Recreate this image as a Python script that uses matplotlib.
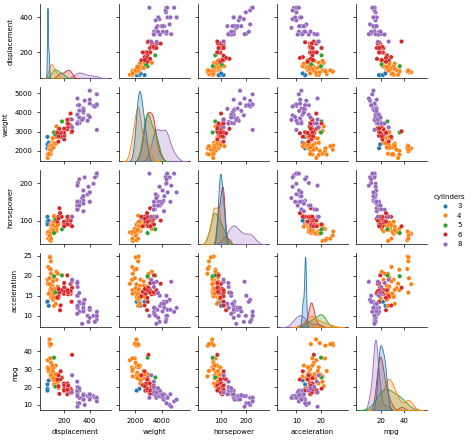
import matplotlib
matplotlib.use("Agg")
import matplotlib.pyplot as plt
import seaborn as sns
import pandas as pd

cyl3 = [(70,2330,97,13.5,19),(70,2124,90,13.5,18),(70,2720,110,13.5,21.5),(80,2420,100,12.5,23.7)]
cyl4 = [(97,2130,88,14.5,27),(97,1835,46,20.5,26),(110,2672,87,17.5,25),(107,2430,90,14.5,24),
        (104,2375,95,17.5,25),(121,2234,113,12.5,26),(140,2408,72,19,22),(98,2164,80,15,28),
        (113,2228,95,14,25),(71,1773,65,19,31),(72,1613,69,18,35),(76,1795,52,22.2,29),
        (97,1985,78,21.5,36),(91,1800,67,16.4,36.1),(86,2110,65,17.9,46.6),(90,2125,48,21.7,43.1),
        (85,1990,65,19.4,44.6),(91,1970,67,15.8,44),(120,2979,88,19.6,27),(140,2720,86,15.6,27),
        (151,2950,90,17.3,27.2),(122,2310,86,16.7,26),(156,2800,92,14.4,19.5),(134,2711,95,14.8,27.2),
        (97,2300,75,15.5,26.5),(90,2264,71,24.8,43.4),(105,2150,70,14.9,31.3),(121,2945,110,16,21.5),
        (140,3270,78,21,20.5),(89,2050,60,24.6,44.3),(97,2234,52,23.6,44),(79,1825,70,15.5,30),
        (120,2395,97,15,24),(112,2640,88,18.6,29),(135,2370,84,13,32),(98,2045,70,16.9,33.5),
        (119,2300,97,14.7,31),(108,2245,75,16.5,32),(151,3035,88,20.5,23),(116,2158,75,15.5,25)]
cyl5 = [(121,2950,67,19.9,36.4),(131,2830,103,15.9,20.3),(183,3530,77,20.1,25.4)]
cyl6 = [(198,2833,95,15.5,22),(199,2774,97,15.5,18),(200,2587,85,16,21),(250,3329,100,15.5,18),
        (232,3288,100,15.5,18),(225,3439,105,15.5,16),(250,3278,88,16,19),(258,2962,110,13.5,18),
        (225,3121,100,16.5,22),(231,3245,105,15.4,20),(200,2930,88,17.1,19),(250,3940,100,18,17),
        (225,3430,90,20.1,19.1),(231,3380,105,15.8,20.6),(173,2725,110,12.6,28.8),(155,2472,110,14.9,26.6),
        (262,3015,85,17,38),(181,2945,110,16.4,25),(168,2910,120,11.4,24.2),(146,2930,97,14.5,24.2),
        (163,3140,133,15.8,16.2),(156,2745,105,16.7,20.5),(200,3155,85,18.2,18.1),(250,3645,110,16.2,17),
        (231,3415,110,15.8,20.8),(225,3613,110,16.4,18.5)]
cyl8 = [(307,3504,130,12.0,18),(350,3693,165,11.5,15),(318,3436,150,11.0,18),(304,3433,150,12.0,16),
        (302,3449,140,10.5,17),(429,4341,198,10.0,15),(454,4354,220,9.0,14),(440,4312,215,8.5,14),
        (455,4425,225,10.0,14),(390,3850,190,8.5,15),(383,3563,170,10.0,15),(340,3609,160,8.0,14),
        (400,3761,150,9.5,15),(455,3086,225,10.0,14),(350,4209,165,12,13),(400,4464,175,11.5,14),
        (351,4154,153,13.5,13),(318,4096,150,13,14),(304,3892,150,12.5,15),(360,4615,215,14.0,10),
        (307,4376,200,15,11),(318,4382,210,13.5,11),(304,4732,193,18.5,9),(350,3988,145,13,16),
        (302,3870,140,15,18),(260,3632,110,18.5,17),(305,3425,130,17.2,20),(350,4190,125,13,16),
        (400,4668,150,11.5,16),(262,3221,110,19,26.6),(350,4080,180,11.1,15.5),(318,3735,140,15.7,19.4),
        (455,4951,225,11,12),(400,5140,175,12,13),(302,3420,129,18.2,23)]

cols = ["displacement", "weight", "horsepower", "acceleration", "mpg"]
ticks = {"displacement": [200, 400], "weight": [2000, 3000, 4000, 5000],
         "horsepower": [100, 200], "acceleration": [10, 15, 20, 25], "mpg": [10, 20, 30, 40]}
xticks = {"displacement": [200, 400], "weight": [2000, 4000],
          "horsepower": [100, 200], "acceleration": [10, 20], "mpg": [20, 40]}
frames = []
for c, rows in [(3, cyl3), (4, cyl4), (5, cyl5), (6, cyl6), (8, cyl8)]:
    d = pd.DataFrame(rows, columns=cols)
    d["cylinders"] = c
    frames.append(d)
df = pd.concat(frames, ignore_index=True)

plt.rcParams.update({"font.size": 5, "axes.labelsize": 5, "xtick.labelsize": 5,
                     "ytick.labelsize": 5, "legend.fontsize": 5, "legend.title_fontsize": 5,
                     "axes.linewidth": 0.5, "xtick.major.width": 0.5, "ytick.major.width": 0.5,
                     "xtick.major.size": 2, "ytick.major.size": 2})
g = sns.pairplot(df, hue="cylinders", palette="tab10", height=0.85,
                 plot_kws={"s": 10, "linewidth": 0.2},
                 diag_kws={"linewidth": 0.6, "common_norm": False})
g.figure.set_size_inches(4.74, 4.41)
g.figure.subplots_adjust(left=0.085, right=0.9, bottom=0.07, top=0.99, wspace=0.12, hspace=0.12)
for i, row in enumerate(cols):
    for j, col in enumerate(cols):
        ax = g.axes[i, j]
        ax.set_xticks(xticks[col])
        if i != j:
            ax.set_yticks(ticks[row])
sns.move_legend(g, "center right", bbox_to_anchor=(0.995, 0.5), frameon=False)
g.figure.savefig("out.png", dpi=100)
